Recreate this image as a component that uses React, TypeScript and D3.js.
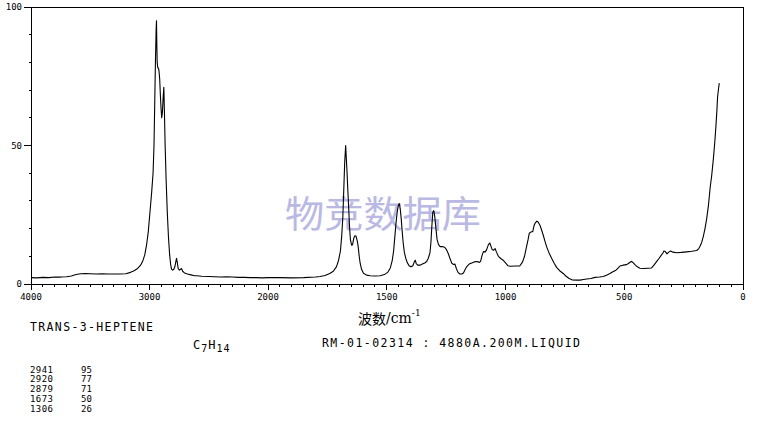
import React from "react";
import * as d3 from "d3";

// ---- data ----
const wavenumbers: number[] = [
  4000, 3950, 3900, 3850, 3800, 3750, 3700, 3660, 3620, 3580, 3540, 3500, 3450, 3400, 3350, 3300, 3250, 3200, 3160, 3130,
  3100, 3075, 3055, 3040, 3025, 3010, 2996, 2982, 2970, 2962, 2956, 2950, 2944, 2941, 2938, 2935, 2930, 2925, 2920, 2914,
  2908, 2902, 2897, 2891, 2884, 2879, 2874, 2868, 2860, 2850, 2840, 2830, 2822, 2814, 2805, 2795, 2786, 2778, 2772, 2766,
  2758, 2748, 2738, 2730, 2720, 2705, 2680, 2650, 2620, 2600, 2560, 2500, 2450, 2400, 2350, 2300, 2250, 2200, 2150, 2100,
  2050, 2000,
  1950, 1900, 1850, 1800, 1780, 1760, 1740, 1725, 1712, 1703, 1695, 1690, 1685, 1681, 1677, 1673, 1670, 1667, 1664, 1660,
  1657, 1653, 1648, 1644, 1639, 1634, 1629, 1624, 1620, 1616, 1612, 1606, 1598, 1585, 1570, 1550, 1528, 1510, 1495, 1485,
  1477, 1471, 1466, 1461, 1456, 1451, 1447, 1443, 1439, 1435, 1431, 1426, 1420, 1414, 1406, 1398, 1390, 1384, 1380, 1376,
  1370, 1360, 1350, 1340, 1332, 1325, 1318, 1314, 1310, 1306, 1302, 1298, 1293, 1288, 1282, 1275, 1265, 1255, 1248, 1241,
  1233, 1226, 1218, 1213, 1207, 1200, 1192, 1184, 1177, 1170, 1163, 1153, 1142, 1130, 1120, 1110, 1105, 1098, 1093, 1085,
  1079, 1072, 1066, 1061, 1056, 1050, 1044, 1038, 1030, 1020, 1010, 1000, 990, 980, 960, 940, 928, 920, 912, 905,
  900, 892, 885, 880, 875, 868, 862, 855, 848, 841, 834, 827, 818, 806, 795, 785, 772, 757, 745, 732,
  720, 700, 686, 672, 658, 640, 623, 605, 588, 575, 560, 548, 535, 525, 518, 505, 490, 480, 469, 462,
  455, 445, 434, 420, 400, 385, 375, 364, 353, 343, 337, 333, 327, 320, 313, 305, 295, 280, 260, 237,
  215, 195, 186, 181, 174, 167, 160, 153, 146, 142, 138, 132, 125, 119, 114, 110, 107, 103, 100,
];
const intensities: number[] = [
  2.3, 2.2, 2.4, 2.3, 2.5, 2.5, 2.6, 2.9, 3.4, 3.7, 3.8, 3.7, 3.6, 3.7, 3.6, 3.6, 3.6, 3.7, 4.2, 4.8,
  5.6, 6.8, 8.5, 10.5, 14, 19, 26, 33, 40, 50, 65, 80, 92, 95, 86, 80, 78, 78, 77, 74,
  68, 63, 60, 62, 68, 71, 62, 50, 38, 26, 17, 10.5, 7.2, 5.4, 5.0, 5.3, 6.2, 8.0, 9.3, 8.0,
  5.6, 5.0, 5.3, 5.6, 4.6, 4.0, 3.6, 3.3, 3.0, 3.0, 2.8, 2.7, 2.6, 2.5, 2.6, 2.5, 2.4, 2.4, 2.3, 2.3,
  2.2, 2.3,
  2.3, 2.2, 2.3, 2.5, 2.7, 3.1, 3.8, 4.6, 6.2, 8.5, 12, 17, 24, 34, 44, 50, 45, 40, 34, 27,
  21, 16, 14, 14.2, 16.5, 17.4, 17.2, 15.5, 13.3, 10, 7.5, 5.3, 3.9, 3.2, 3.0, 2.9, 3.0, 3.4, 4.3, 5.8,
  8.4, 12, 17, 22, 26, 28.5, 29, 27, 23.5, 19, 15, 11.5, 9.3, 7.8, 6.6, 6.2, 6.6, 8.0, 8.6, 7.4,
  6.8, 6.8, 7.2, 7.6, 8.1, 9.3, 11.3, 15, 21, 26, 26.5, 24.5, 20, 16, 14.2, 13.5, 13.5, 13.2, 12.3, 11,
  9, 7.5, 7.0, 7.2, 5.6, 4.2, 3.6, 3.6, 4.0, 5.2, 6.3, 7.2, 7.6, 8.0, 8.1, 7.8, 8.2, 10.5, 11.7, 11.6,
  12.5, 14.2, 14.8, 13.6, 12.4, 12.2, 12.8, 11.5, 10, 9.2, 8.6, 7.6, 6.6, 6.4, 6.5, 6.5, 8.0, 10, 13.2, 16,
  18.3, 18.8, 19, 21, 22, 22.7, 22.3, 21.2, 19.5, 17.6, 15.5, 13.5, 11.5, 9.3, 7.5, 6.0, 4.8, 3.8, 2.8, 2.0,
  1.5, 1.4, 1.4, 1.6, 1.8, 2.0, 2.4, 2.5, 2.7, 3.2, 3.8, 4.4, 5.0, 5.8, 6.5, 6.8, 7.0, 7.6, 8.2, 7.6,
  7.0, 6.2, 5.7, 5.6, 5.7, 5.8, 6.8, 8.1, 9.3, 10.5, 11.2, 11.9, 11.7, 10.9, 11.5, 11.9, 11.5, 11.3, 11.4, 11.6,
  11.8, 12.1, 12.8, 13.6, 15, 17.2, 20, 23.5, 28, 31.5, 35, 39, 45, 51, 57, 62.5, 67.6, 70.5, 72.5,
];

const xTickLabels: number[] = [4000, 3000, 2000, 1500, 1000, 500, 0];
const yTickLabels: number[] = [0, 50, 100];
const peakWavenumbers: string[] = ["2941", "2920", "2879", "1673", "1306"];
const peakIntensities: string[] = ["95", "77", "71", "50", "26"];

const compoundName = "TRANS-3-HEPTENE";
const sampleInfo = "RM-01-02314 : 4880A.200M.LIQUID";
const watermark = "物竞数据库";

export default function App() {
  const W = 765;
  const H = 425;
  const left = 31;
  const right = 743;
  const top = 7;
  const bottom = 284;

  const x = d3.scaleLinear().domain([4000, 2000, 0]).range([left, 268, right]);
  const y = d3.scaleLinear().domain([0, 100]).range([bottom, top]);

  const pts: [number, number][] = wavenumbers.map((w, i) => [w, intensities[i]]);
  const line = d3
    .line<[number, number]>()
    .x((d) => x(d[0]))
    .y((d) => y(d[1]));

  const minorX: number[] = [];
  for (let v = 4000; v > 2000; v -= 100) minorX.push(v);
  for (let v = 2000; v >= 0; v -= 50) minorX.push(v);
  const minorY: number[] = d3.range(10, 100, 10).filter((v) => v !== 50);

  const mono = "'DejaVu Sans Mono', 'Liberation Mono', monospace";

  return (
    <div style={{ position: "absolute", left: 0, top: 0 }}>
      <svg width={W} height={H} style={{ display: "block", background: "#fff" }}>
        <rect x={0} y={0} width={W} height={H} fill="#fff" />
        {/* watermark */}
        <text
          x={383}
          y={212}
          textAnchor="middle"
          dominantBaseline="central"
          fontFamily="'Noto Sans CJK SC', sans-serif"
          fontSize={37}
          fill="#b9b9e4"
          textLength={196}
          lengthAdjust="spacingAndGlyphs"
        >
          {watermark}
        </text>

        {/* frame */}
        <g stroke="#000" strokeWidth={1} shapeRendering="crispEdges" fill="none">
          <line x1={left} y1={top} x2={right} y2={top} />
          <line x1={left} y1={top} x2={left} y2={bottom} />
          <line x1={right} y1={top} x2={right} y2={bottom} />
          <line x1={left} y1={bottom} x2={right} y2={bottom} />
          {minorX.map((v, i) => (
            <line key={"mx" + i} x1={x(v)} x2={x(v)} y1={bottom} y2={bottom + 3} />
          ))}
          {xTickLabels.map((v, i) => (
            <line key={"Mx" + i} x1={x(v)} x2={x(v)} y1={bottom} y2={bottom + 6} />
          ))}
          {minorY.map((v, i) => (
            <line key={"my" + i} x1={left - 2} x2={left} y1={y(v)} y2={y(v)} />
          ))}
          {yTickLabels.map((v, i) => (
            <line key={"My" + i} x1={left - 7} x2={left} y1={y(v)} y2={y(v)} />
          ))}
        </g>

        {/* tick labels */}
        <g fontFamily={mono} fontSize={9} fill="#000">
          {xTickLabels.map((v, i) => (
            <text key={"xl" + i} x={x(v)} y={296.5} textAnchor="middle" dominantBaseline="central">
              {v}
            </text>
          ))}
          {yTickLabels.map((v, i) => (
            <text key={"yl" + i} x={22} y={y(v)} textAnchor="end" dominantBaseline="central">
              {v}
            </text>
          ))}
        </g>

        {/* spectrum */}
        <path d={line(pts) || ""} fill="none" stroke="#000" strokeWidth={1.1} strokeLinejoin="round" />

        {/* axis title */}
        <text x={358} y={318} dominantBaseline="central" fontSize={14} fill="#000">
          <tspan fontFamily="'Noto Sans CJK SC', sans-serif">波数</tspan>
          <tspan fontFamily="'DejaVu Serif', 'Liberation Serif', serif">/cm</tspan>
          <tspan fontFamily="'DejaVu Serif', 'Liberation Serif', serif" fontSize={9} dy={-5}>
            -1
          </tspan>
        </text>

        {/* info texts */}
        <g fontFamily={mono} fill="#000">
          <text x={30} y={327} fontSize={11.5} dominantBaseline="central" textLength={123} lengthAdjust="spacing">
            {compoundName}
          </text>
          <text x={322} y={343} fontSize={11.5} dominantBaseline="central" textLength={258} lengthAdjust="spacing">
            {sampleInfo}
          </text>
          <text x={193} y={345} fontSize={12} dominantBaseline="central" letterSpacing={1}>
            <tspan>C</tspan>
            <tspan fontSize={10} dy={3}>7</tspan>
            <tspan dy={-3}>H</tspan>
            <tspan fontSize={10} dy={3}>14</tspan>
          </text>
          {peakWavenumbers.map((p, i) => (
            <g key={"pk" + i} fontSize={9}>
              <text x={30} y={369.5 + i * 9.8} dominantBaseline="central" textLength={23} lengthAdjust="spacing">
                {p}
              </text>
              <text x={81} y={369.5 + i * 9.8} dominantBaseline="central">
                {peakIntensities[i]}
              </text>
            </g>
          ))}
        </g>
      </svg>
    </div>
  );
}
